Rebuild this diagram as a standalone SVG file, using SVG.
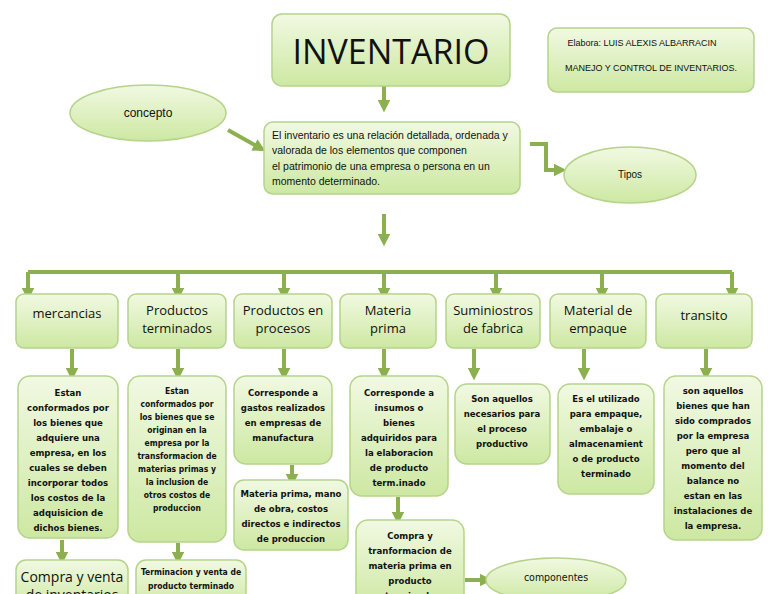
<svg xmlns="http://www.w3.org/2000/svg" width="768" height="594" viewBox="0 0 768 594">
<defs>
<linearGradient id="g" x1="0" y1="0" x2="0" y2="1"><stop offset="0" stop-color="#f1f9e2"/><stop offset="1" stop-color="#cde8a2"/></linearGradient>
<marker id="a" viewBox="0 0 10 10" refX="5" refY="5" markerWidth="3.2" markerHeight="3.2" orient="auto"><path d="M0,0L10,5L0,10Z" fill="#8cb04f"/></marker>
<style>
.n{fill:url(#g);stroke:#b5d38a;stroke-width:1.5}
.c{stroke:#8cb04f;stroke-width:4;fill:none}
.ca{stroke:#8cb04f;stroke-width:4;fill:none;marker-end:url(#a)}
text{font-family:"Liberation Sans Narrow","Liberation Sans",sans-serif;fill:#111;text-anchor:middle}
.s{font-size:9.5px;font-weight:bold;font-family:"DejaVu Sans Condensed","Liberation Sans",sans-serif}
.m{font-size:13px;font-family:"Open Sans","Liberation Sans",sans-serif}
</style>
</defs>
<rect width="768" height="594" fill="#fff"/>
<g id="connectors">
<path class="ca" d="M384,86V106"/>
<path class="ca" d="M228,130L260,148"/>
<path class="ca" d="M530,144H546V170H560"/>
<path class="ca" d="M384,214V240"/>
<path class="c" d="M28,272H732"/>
<path class="ca" d="M28,272V294"/><path class="ca" d="M178,272V294"/><path class="ca" d="M284,272V294"/><path class="ca" d="M384,272V294"/><path class="ca" d="M496,272V294"/><path class="ca" d="M602,272V294"/><path class="ca" d="M732,272V294"/>
<path class="ca" d="M72,349V374"/><path class="ca" d="M178,349V374"/><path class="ca" d="M284,349V374"/><path class="ca" d="M384,349V374"/><path class="ca" d="M474,349V374"/><path class="ca" d="M584,349V374"/><path class="ca" d="M706,349V374"/>
<path class="ca" d="M62,540V558"/><path class="ca" d="M178,543V558"/><path class="ca" d="M292,465V480"/><path class="ca" d="M398,497V518"/><path class="ca" d="M465,580H486"/>
</g>
<g id="inventario"><rect class="n" x="272" y="14" width="238" height="72" rx="10"/><text x="391" y="64" style="font-size:34px;font-family:'Open Sans',sans-serif">INVENTARIO</text></g>
<g id="elabora"><rect class="n" x="548" y="28" width="206" height="64" rx="9"/><text x="642" y="46" style="font-size:9px">Elabora: LUIS ALEXIS ALBARRACIN</text><text x="651" y="71" style="font-size:9px">MANEJO Y CONTROL DE INVENTARIOS.</text></g>
<g id="concepto"><ellipse class="n" cx="148" cy="113" rx="78" ry="28"/><text x="148" y="117" style="font-size:12px">concepto</text></g>
<g id="def"><rect class="n" x="264" y="122" width="256" height="72" rx="9"/>
<text x="272" y="139" style="font-size:10.5px;text-anchor:start">El inventario es una relación detallada, ordenada y</text>
<text x="272" y="154" style="font-size:10.5px;text-anchor:start">valorada de los elementos que componen</text>
<text x="272" y="170" style="font-size:10.5px;text-anchor:start">el patrimonio de una empresa o persona en un</text>
<text x="272" y="185" style="font-size:10.5px;text-anchor:start">momento determinado.</text></g>
<g id="tipos"><ellipse class="n" cx="630" cy="175" rx="66" ry="28"/><text x="630" y="178" style="font-size:10px">Tipos</text></g>
<g id="mercancias"><rect class="n" x="16" y="294" width="102" height="54" rx="8"/><text class="m" x="67" y="318">mercancias</text></g>
<g id="pterm"><rect class="n" x="128" y="294" width="98" height="54" rx="8"/><text class="m" x="177" y="315">Productos</text><text class="m" x="177" y="333">terminados</text></g>
<g id="pproc"><rect class="n" x="234" y="294" width="98" height="54" rx="8"/><text class="m" x="283" y="315">Productos en</text><text class="m" x="283" y="333">procesos</text></g>
<g id="mprima"><rect class="n" x="340" y="294" width="96" height="54" rx="8"/><text class="m" x="388" y="315">Materia</text><text class="m" x="388" y="333">prima</text></g>
<g id="sumin"><rect class="n" x="446" y="294" width="94" height="54" rx="8"/><text class="m" x="493" y="315">Suminiostros</text><text class="m" x="493" y="333">de fabrica</text></g>
<g id="empaque"><rect class="n" x="550" y="294" width="96" height="54" rx="8"/><text class="m" x="598" y="315">Material de</text><text class="m" x="598" y="333">empaque</text></g>
<g id="transito"><rect class="n" x="656" y="294" width="96" height="54" rx="8"/><text class="m" x="704" y="320">transito</text></g>
<g id="d1"><rect class="n" x="18" y="376" width="100" height="162" rx="12"/>
<text class="s" x="68" y="396">Estan</text><text class="s" x="68" y="411">conformados por</text><text class="s" x="68" y="426">los bienes que</text><text class="s" x="68" y="441">adquiere una</text><text class="s" x="68" y="456">empresa, en los</text><text class="s" x="68" y="471">cuales se deben</text><text class="s" x="68" y="486">incorporar todos</text><text class="s" x="68" y="501">los costos de la</text><text class="s" x="68" y="516">adquisicion de</text><text class="s" x="68" y="531">dichos bienes.</text></g>
<g id="d2"><rect class="n" x="128" y="376" width="98" height="166" rx="12"/>
<g style="font-size:8.5px"><text class="s" x="177" y="394" style="font-size:8.5px">Estan</text><text class="s" x="177" y="407" style="font-size:8.5px">conformados por</text><text class="s" x="177" y="420" style="font-size:8.5px">los bienes que se</text><text class="s" x="177" y="433" style="font-size:8.5px">originan en la</text><text class="s" x="177" y="446" style="font-size:8.5px">empresa por la</text><text class="s" x="177" y="459" style="font-size:8.5px">transformacion de</text><text class="s" x="177" y="472" style="font-size:8.5px">materias primas y</text><text class="s" x="177" y="485" style="font-size:8.5px">la inclusion de</text><text class="s" x="177" y="498" style="font-size:8.5px">otros costos de</text><text class="s" x="177" y="511" style="font-size:8.5px">produccion</text></g></g>
<g id="d3"><rect class="n" x="234" y="376" width="98" height="88" rx="12"/>
<text class="s" x="283" y="396">Corresponde a</text><text class="s" x="283" y="411">gastos realizados</text><text class="s" x="283" y="426">en empresas de</text><text class="s" x="283" y="441">manufactura</text></g>
<g id="d3b"><rect class="n" x="234" y="480" width="114" height="70" rx="10"/>
<text class="s" x="291" y="497">Materia prima, mano</text><text class="s" x="291" y="512">de obra, costos</text><text class="s" x="291" y="527">directos e indirectos</text><text class="s" x="291" y="542">de produccion</text></g>
<g id="d4"><rect class="n" x="350" y="376" width="98" height="120" rx="12"/>
<text class="s" x="399" y="396">Corresponde a</text><text class="s" x="399" y="411">insumos o</text><text class="s" x="399" y="426">bienes</text><text class="s" x="399" y="441">adquiridos para</text><text class="s" x="399" y="456">la elaboracion</text><text class="s" x="399" y="471">de producto</text><text class="s" x="399" y="486">term.inado</text></g>
<g id="d4b"><rect class="n" x="356" y="520" width="108" height="90" rx="12"/>
<text class="s" x="410" y="539">Compra y</text><text class="s" x="410" y="554">tranformacion de</text><text class="s" x="410" y="569">materia prima en</text><text class="s" x="410" y="584">producto</text><text class="s" x="410" y="599">terminado</text></g>
<g id="componentes"><ellipse class="n" cx="556" cy="580" rx="70" ry="22"/><text class="s" x="556" y="581" style="font-weight:normal;font-size:10.5px">componentes</text></g>
<g id="d5"><rect class="n" x="455" y="384" width="95" height="80" rx="12"/>
<text class="s" x="502" y="402">Son aquellos</text><text class="s" x="502" y="417">necesarios para</text><text class="s" x="502" y="432">el proceso</text><text class="s" x="502" y="447">productivo</text></g>
<g id="d6"><rect class="n" x="558" y="384" width="96" height="110" rx="12"/>
<text class="s" x="606" y="402">Es el utilizado</text><text class="s" x="606" y="417">para empaque,</text><text class="s" x="606" y="432">embalaje o</text><text class="s" x="606" y="447">almacenamient</text><text class="s" x="606" y="462">o de producto</text><text class="s" x="606" y="477">terminado</text></g>
<g id="d7"><rect class="n" x="664" y="376" width="98" height="164" rx="12"/>
<text class="s" x="713" y="394">son aquellos</text><text class="s" x="713" y="409">bienes que han</text><text class="s" x="713" y="424">sido comprados</text><text class="s" x="713" y="439">por la empresa</text><text class="s" x="713" y="454">pero que al</text><text class="s" x="713" y="469">momento del</text><text class="s" x="713" y="484">balance no</text><text class="s" x="713" y="499">estan en las</text><text class="s" x="713" y="514">instalaciones de</text><text class="s" x="713" y="529">la empresa.</text></g>
<g id="d1b"><rect class="n" x="16" y="560" width="112" height="50" rx="10"/><text x="72" y="582" style="font-size:14px;font-family:'Open Sans',sans-serif">Compra y venta</text><text x="72" y="600" style="font-size:14px;font-family:'Open Sans',sans-serif">de inventarios</text></g>
<g id="d2b"><rect class="n" x="136" y="560" width="110" height="50" rx="10"/><text class="s" x="191" y="575" style="font-size:8.5px">Terminacion y venta de</text><text class="s" x="191" y="589" style="font-size:8.5px">producto terminado</text></g>
</svg>
